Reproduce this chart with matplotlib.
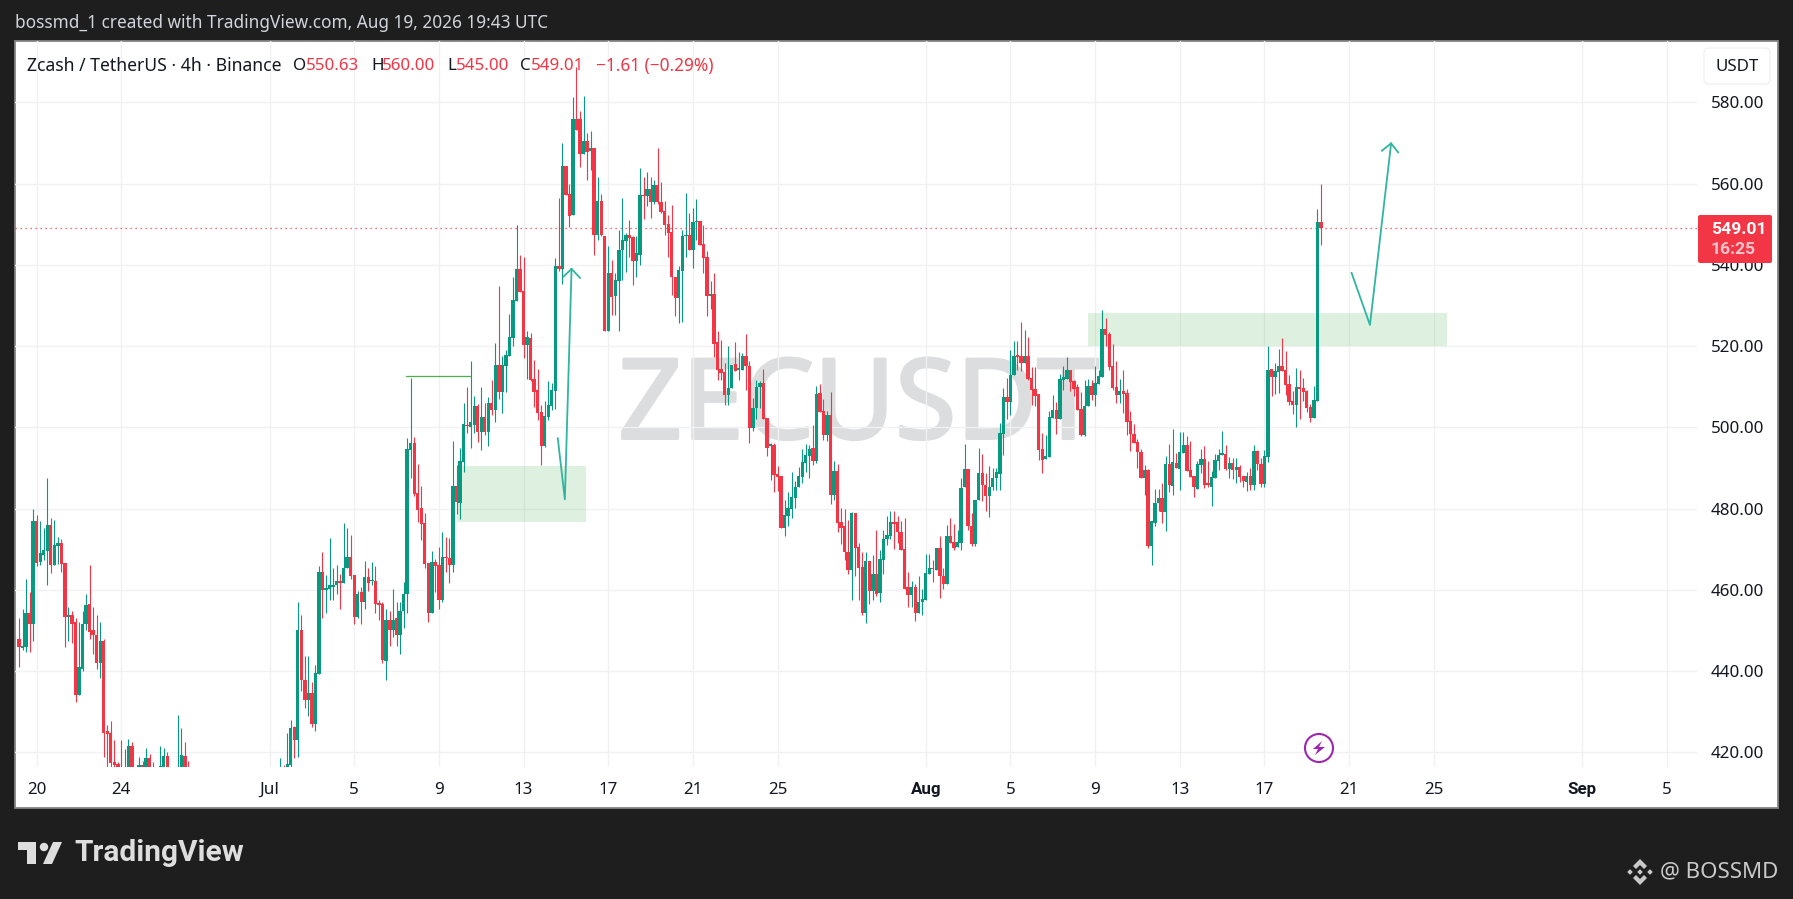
import matplotlib
matplotlib.use('Agg')
import matplotlib.pyplot as plt
import matplotlib.patheffects as pe
from matplotlib.patches import Rectangle, FancyBboxPatch, Circle, Polygon

plt.rcParams['font.family'] = ['Noto Sans', 'DejaVu Sans']
BOLD_FONT = ['Roboto', 'DejaVu Sans']

# 4h bars, counted from the Jun 20 00:00 candle. 44..68 sit below the visible range.
bar_numbers = list(range(-5, 44)) + list(range(69, 365))

opens = [
    448.0, 445.6, 446.0, 454.2, 451.5, 476.9, 466.8, 468.5, 469.5, 475.9,
    466.0, 470.7, 471.5, 466.5, 453.4, 453.9, 452.0, 434.2, 440.6, 451.5,
    456.4, 450.0, 449.0, 442.1, 447.5, 425.3, 424.8, 417.7, 417.2, 415.0,
    408.0, 412.0, 421.6, 412.0, 412.0, 416.9, 414.0, 418.7, 414.0, 411.0,
    410.0, 412.0, 419.2, 413.0, 411.0, 414.0, 413.0, 419.2, 414.0,
    411.0, 416.0, 411.0, 417.0, 426.3, 423.1, 450.0, 437.9, 433.0, 434.5,
    427.1, 439.4, 464.3, 459.9, 460.1, 460.8, 461.1, 462.3, 461.6, 465.3,
    468.2, 463.6, 453.2, 459.4, 456.9, 463.1, 462.1, 462.3, 456.7, 456.4,
    442.6, 452.5, 450.2, 453.0, 448.8, 454.7, 458.9, 494.4, 496.1, 483.8,
    480.1, 476.4, 466.5, 454.2, 466.8, 466.0, 457.6, 468.0, 467.8, 466.0,
    485.5, 481.3, 491.4, 500.5, 500.2, 500.6, 505.3, 498.9, 502.6, 498.9,
    506.0, 504.3, 515.4, 508.6, 515.0, 517.6, 522.1, 531.1, 539.0, 533.6,
    520.3, 522.0, 511.8, 509.2, 503.8, 495.4, 502.6, 505.3, 509.0, 539.7,
    539.0, 564.3, 557.4, 552.3, 575.9, 575.9, 567.3, 570.6, 568.0, 568.8,
    547.4, 555.7, 547.1, 523.6, 537.9, 532.3, 536.1, 543.7, 545.9, 547.4,
    546.8, 541.0, 542.4, 557.2, 557.0, 558.7, 555.5, 559.7, 555.5, 553.2,
    550.1, 548.0, 537.1, 531.9, 538.6, 547.0, 547.4, 543.7, 550.5, 550.8,
    545.1, 541.9, 532.3, 532.8, 520.9, 514.4, 513.7, 507.9, 509.6, 515.6,
    514.0, 514.1, 517.6, 515.2, 499.9, 504.8, 510.0, 511.0, 502.4, 495.5,
    495.7, 488.6, 488.1, 475.3, 478.3, 480.0, 482.7, 485.2, 487.9, 491.3,
    493.0, 495.0, 491.8, 508.5, 504.1, 498.2, 503.1, 483.4, 489.3,
    476.8, 475.6, 469.4, 465.0, 478.8, 470.6, 465.7, 454.2, 467.2, 459.8,
    464.0, 459.3, 467.4, 472.4, 473.3, 476.8, 476.8, 474.3, 470.1, 460.6,
    458.8, 460.6, 454.4, 456.9, 457.6, 464.0, 465.5, 465.0, 470.4, 463.5,
    461.5, 473.3, 471.8, 470.6, 471.6, 485.2, 489.7, 475.8, 471.4, 482.0,
    488.8, 485.9, 483.2, 485.2, 487.6, 488.6, 498.4, 507.5, 506.3, 512.9,
    517.6, 517.6, 515.9, 517.6, 512.2, 509.5, 508.3, 494.7, 492.3, 492.8,
    502.4, 504.3, 502.1, 511.7, 512.0, 514.2, 511.5, 510.0, 504.6, 498.2,
    505.3, 510.2, 508.0, 510.7, 512.5, 524.3, 523.0, 515.2, 510.0, 508.0,
    509.0, 508.5, 501.6, 498.4, 496.5, 494.0, 487.6, 489.6, 470.9, 476.5,
    481.5, 482.7, 479.2, 491.1, 485.6, 491.3, 489.8, 493.8, 495.7, 489.6,
    488.1, 484.9, 490.8, 492.3, 486.1, 485.4, 487.6, 491.8, 493.3, 493.5,
    489.8, 491.3, 489.6, 490.3, 488.1, 486.6, 488.1, 485.9, 494.3, 491.1,
    486.1, 492.8, 514.4, 512.5, 513.7, 515.2, 514.2, 510.7, 506.6, 505.6,
    510.0, 509.8, 509.0, 505.1, 502.4, 506.6, 550.63,
]
highs = [
    453.0, 455.2, 462.6, 459.4, 479.8, 478.4, 476.9, 475.2, 487.5, 477.6,
    477.1, 472.9, 472.4, 466.7, 455.9, 454.7, 453.0, 452.2, 454.9, 459.1,
    466.0, 455.9, 453.7, 452.2, 448.0, 426.8, 427.8, 423.1, 417.6, 423.1,
    420.9, 423.4, 422.6, 415.0, 418.9, 417.9, 421.1, 419.7, 417.7, 414.0,
    421.6, 421.1, 420.2, 415.0, 416.0, 429.1, 425.9, 422.6, 417.9,
    418.7, 416.9, 424.8, 428.0, 426.6, 457.1, 453.7, 443.8, 443.6, 437.4,
    441.4, 465.8, 469.2, 463.6, 472.7, 465.3, 466.0, 463.8, 476.4, 475.2,
    473.4, 463.6, 459.6, 460.8, 467.0, 465.5, 466.8, 465.8, 457.6, 457.1,
    455.4, 454.7, 460.1, 456.9, 457.1, 462.0, 497.5, 512.1, 497.6, 491.0,
    485.5, 478.8, 466.5, 469.5, 467.5, 470.5, 474.2, 472.9, 472.7, 496.6,
    490.7, 494.9, 506.0, 510.0, 516.3, 507.6, 505.8, 510.0, 505.9, 507.5,
    511.7, 520.7, 534.8, 517.6, 519.0, 527.8, 536.9, 549.8, 542.4, 541.9,
    523.7, 523.2, 516.6, 514.3, 505.5, 506.6, 511.3, 510.8, 541.6, 556.4,
    570.1, 564.3, 559.9, 581.4, 588.8, 577.9, 581.6, 572.4, 572.9, 568.8,
    561.7, 557.4, 547.1, 544.6, 541.2, 538.0, 548.7, 556.4, 547.8, 551.0,
    547.1, 547.0, 563.8, 561.7, 562.9, 561.7, 560.9, 568.7, 560.5, 555.6,
    552.3, 554.7, 537.1, 539.7, 548.7, 557.6, 552.7, 553.9, 556.2, 550.8,
    549.8, 543.4, 536.0, 538.1, 523.7, 521.5, 515.8, 520.0, 515.4, 521.1,
    518.6, 518.2, 523.0, 516.4, 507.2, 511.7, 511.3, 514.4, 502.4, 496.1,
    496.1, 490.6, 488.1, 482.2, 484.2, 489.1, 486.7, 490.3, 494.7, 495.9,
    495.7, 500.6, 510.2, 510.7, 507.0, 504.1, 508.8, 491.8, 491.1, 480.2,
    480.0, 477.3, 479.2, 479.0, 471.6, 469.4, 469.2, 467.2, 468.7, 474.8,
    469.8, 474.8, 478.3, 479.5, 479.5, 478.3, 477.0, 477.8, 464.5, 462.3,
    461.5, 463.5, 460.1, 468.9, 468.9, 467.4, 470.4, 473.2, 465.5, 476.0,
    477.8, 476.3, 474.8, 487.6, 496.0, 489.7, 478.8, 482.2, 495.0, 493.5,
    488.7, 490.4, 490.1, 490.1, 501.0, 509.7, 512.2, 519.1, 521.3, 521.3,
    526.0, 524.0, 522.3, 514.8, 514.8, 508.3, 498.7, 498.2, 504.1, 508.0,
    506.3, 513.2, 515.2, 517.4, 514.2, 511.7, 510.7, 508.8, 511.7, 512.0,
    511.7, 515.2, 514.0, 528.9, 527.0, 523.5, 520.6, 516.4, 511.9, 514.1,
    509.5, 504.1, 500.9, 497.2, 494.6, 490.8, 489.7, 476.9, 484.9, 484.9,
    486.4, 493.0, 496.0, 499.7, 493.8, 498.9, 498.9, 497.9, 496.7, 488.1,
    491.8, 494.7, 495.4, 491.8, 489.3, 493.5, 494.7, 499.2, 495.7, 492.8,
    492.5, 492.5, 490.8, 488.1, 489.1, 490.1, 495.7, 494.5, 492.5, 494.5,
    520.1, 514.4, 515.9, 519.3, 522.0, 518.9, 512.9, 509.0, 514.7, 514.2,
    512.2, 509.3, 505.8, 510.2, 553.7, 560.0,
]
lows = [
    441.1, 445.3, 444.7, 444.8, 447.3, 465.9, 466.0, 467.3, 461.3, 464.1,
    466.0, 466.3, 464.3, 446.0, 447.5, 447.0, 432.5, 434.0, 440.1, 450.2,
    448.0, 444.1, 440.4, 438.2, 418.9, 415.0, 412.0, 412.0, 411.0, 410.0,
    406.0, 410.0, 410.0, 409.0, 410.0, 412.0, 412.0, 411.0, 409.0, 408.0,
    408.0, 410.0, 411.0, 410.0, 409.0, 412.0, 411.0, 410.0, 408.0,
    409.0, 410.0, 409.0, 415.0, 418.7, 418.9, 435.2, 431.0, 429.0, 426.3,
    425.3, 439.4, 453.0, 454.2, 457.6, 457.4, 458.9, 455.4, 461.6, 465.3,
    462.6, 451.5, 453.0, 451.7, 455.4, 459.6, 461.3, 454.2, 452.7, 442.1,
    437.9, 446.3, 448.3, 446.3, 444.1, 450.7, 454.4, 487.5, 483.0, 476.6,
    472.2, 465.5, 452.0, 454.2, 459.4, 455.4, 456.9, 464.5, 461.6, 464.3,
    478.6, 477.4, 489.0, 498.7, 494.9, 498.7, 496.4, 494.5, 498.0, 495.4,
    503.0, 501.2, 507.0, 503.5, 508.6, 517.6, 520.0, 531.1, 533.2, 517.0,
    511.9, 511.4, 505.1, 501.8, 490.7, 495.2, 501.8, 504.3, 504.4, 538.6,
    535.3, 557.2, 549.4, 552.3, 573.2, 564.0, 567.3, 560.9, 563.3, 542.4,
    546.0, 547.2, 523.6, 523.6, 527.7, 527.7, 523.7, 536.3, 538.3, 542.0,
    535.0, 537.1, 540.0, 551.3, 554.5, 551.5, 555.0, 555.0, 552.7, 547.4,
    542.0, 532.6, 527.4, 525.8, 526.0, 542.0, 543.7, 539.2, 546.1, 544.9,
    537.9, 527.3, 529.1, 517.4, 511.7, 511.7, 505.6, 505.6, 509.6, 513.9,
    511.7, 514.1, 509.3, 496.1, 499.0, 502.0, 504.7, 502.0, 492.9, 487.1,
    484.0, 484.4, 475.3, 473.3, 475.6, 477.8, 480.2, 485.2, 486.3, 489.1,
    487.6, 490.8, 491.3, 503.8, 497.0, 496.7, 481.2, 482.0, 474.3, 471.4,
    467.4, 464.0, 457.4, 463.5, 457.6, 453.7, 451.9, 456.4, 457.6, 458.6,
    456.9, 464.0, 471.1, 472.4, 470.1, 471.6, 469.9, 460.3, 455.9, 455.9,
    452.4, 454.2, 453.7, 457.6, 464.0, 462.0, 465.0, 458.1, 460.3, 461.5,
    471.6, 469.7, 470.6, 469.9, 485.2, 474.8, 470.9, 470.9, 482.0, 481.9,
    479.5, 478.0, 484.7, 484.7, 484.5, 493.3, 502.1, 503.1, 512.9, 514.2,
    513.9, 515.9, 511.7, 505.6, 505.3, 492.0, 488.8, 492.3, 492.8, 502.4,
    498.4, 502.1, 509.3, 512.0, 509.0, 507.8, 504.3, 497.8, 497.8, 505.3,
    506.8, 505.3, 510.7, 512.5, 520.1, 514.2, 509.3, 506.0, 506.0, 503.5,
    498.2, 494.1, 496.2, 490.0, 487.6, 483.3, 470.3, 466.0, 475.8, 479.5,
    476.5, 474.6, 484.2, 483.4, 490.1, 484.7, 493.8, 489.3, 487.9, 482.9,
    484.9, 488.8, 485.1, 485.2, 480.7, 487.6, 489.6, 493.3, 489.6, 487.6,
    487.4, 486.2, 486.6, 485.2, 484.4, 484.7, 484.7, 489.6, 485.4, 485.2,
    491.5, 507.8, 508.3, 508.5, 513.9, 508.0, 505.6, 503.4, 500.2, 502.1,
    506.6, 503.8, 501.4, 502.4, 506.4, 545.0,
]
closes = [
    445.9, 446.3, 454.2, 451.5, 476.9, 466.5, 469.0, 469.7, 475.9, 466.0,
    471.0, 471.5, 466.3, 453.4, 453.7, 451.7, 434.2, 440.9, 451.7, 456.2,
    449.7, 448.8, 442.1, 447.5, 424.8, 424.6, 417.4, 417.0, 413.0, 412.0,
    416.0, 421.6, 412.0, 413.0, 416.9, 414.0, 418.7, 414.0, 411.0, 409.0,
    416.7, 419.2, 413.0, 411.0, 414.0, 416.0, 419.4, 412.0, 410.0,
    414.0, 412.0, 417.2, 426.1, 423.1, 450.0, 437.7, 433.0, 434.5, 427.1,
    439.6, 464.3, 459.9, 460.4, 461.1, 461.3, 462.3, 461.6, 465.5, 468.2,
    463.3, 453.2, 459.1, 456.9, 463.1, 461.8, 462.2, 456.4, 456.2, 442.8,
    452.5, 450.2, 452.7, 448.8, 454.9, 459.1, 494.6, 496.1, 483.5, 479.6,
    476.1, 466.3, 454.2, 466.8, 465.8, 457.6, 468.0, 467.8, 466.0, 485.5,
    481.6, 491.7, 500.8, 500.3, 501.2, 505.3, 498.9, 502.6, 498.9, 506.0,
    504.3, 515.4, 508.6, 515.4, 517.8, 522.2, 531.4, 539.0, 533.2, 520.3,
    522.2, 511.6, 508.7, 503.5, 495.4, 502.8, 505.5, 509.2, 539.7, 539.0,
    564.3, 557.2, 552.0, 575.9, 573.2, 567.3, 570.6, 567.9, 568.8, 547.4,
    555.7, 547.4, 523.6, 537.9, 532.2, 536.3, 543.7, 546.1, 547.4, 546.7,
    541.0, 542.8, 557.2, 557.0, 558.7, 555.5, 559.7, 555.5, 553.0, 549.8,
    547.8, 536.9, 531.9, 538.7, 547.1, 547.4, 543.7, 550.5, 550.8, 544.9,
    541.8, 532.3, 532.8, 520.5, 514.1, 513.5, 507.9, 509.6, 515.4, 513.9,
    514.5, 517.6, 515.0, 499.9, 504.8, 510.0, 511.0, 502.1, 495.0, 495.7,
    488.3, 487.9, 475.3, 478.5, 480.2, 482.9, 485.4, 488.1, 491.5, 493.3,
    494.7, 491.8, 508.3, 503.8, 498.2, 503.1, 483.4, 489.3, 476.5, 475.3,
    469.2, 465.0, 478.8, 470.4, 465.5, 454.2, 467.2, 459.8, 464.0, 459.1,
    467.7, 472.6, 473.6, 476.8, 476.3, 474.3, 469.9, 460.3, 458.8, 460.6,
    454.4, 457.1, 457.8, 464.2, 465.5, 465.2, 470.4, 463.3, 461.5, 473.3,
    471.6, 470.4, 471.8, 485.0, 489.7, 475.6, 471.4, 482.2, 488.8, 485.9,
    483.2, 485.2, 487.6, 489.1, 498.7, 507.5, 506.3, 512.9, 517.6, 517.4,
    515.9, 517.6, 512.0, 509.3, 507.8, 494.5, 492.0, 493.0, 502.6, 504.3,
    502.1, 512.0, 512.5, 514.2, 511.2, 509.5, 504.3, 498.2, 505.3, 510.2,
    508.0, 511.0, 512.7, 524.3, 522.8, 514.9, 509.8, 508.0, 509.0, 508.3,
    501.4, 498.4, 496.2, 493.9, 487.6, 489.6, 470.9, 476.9, 481.5, 482.7,
    479.2, 491.1, 485.9, 491.5, 490.1, 494.0, 495.7, 489.3, 487.9, 485.2,
    491.1, 492.3, 485.9, 485.9, 487.9, 492.0, 493.3, 493.5, 489.8, 491.3,
    489.6, 490.3, 487.9, 486.9, 488.1, 485.9, 494.3, 491.1, 486.1, 493.0,
    514.2, 512.5, 513.9, 515.2, 513.9, 510.5, 506.3, 505.6, 510.0, 509.5,
    508.8, 504.8, 502.4, 506.8, 550.6, 549.01,
]

price_ticks = [420, 440, 460, 480, 500, 520, 540, 560, 580]
date_ticks = [0, 24, 66, 90, 114, 138, 162, 186, 210, 252, 276, 300, 324, 348, 372, 396, 438, 462]
date_labels = ['20', '24', 'Jul', '5', '9', '13', '17', '21', '25', 'Aug', '5', '9', '13', '17', '21', '25', 'Sep', '5']
month_labels = ['Aug', 'Sep']
last_price = 549.01

# drawings, as (bar, price)
zone_1 = (119.1, 155.7, 476.8, 490.5)
zone_2 = (298.0, 399.8, 520.0, 528.1)
arrow_1_bars = [147.7, 149.7, 151.6]
arrow_1_prices = [497.3, 482.3, 539.0]
arrow_1_head_bars = [149.3, 151.6, 154.0]
arrow_1_head_prices = [537.1, 539.0, 536.8]
arrow_2_bars = [372.7, 377.9, 383.9]
arrow_2_prices = [538.0, 525.2, 569.9]
arrow_2_head_bars = [381.3, 383.9, 385.9]
arrow_2_head_prices = [568.1, 569.9, 567.7]
level_bars = [104.6, 122.9]
level_price = 512.6

UP = '#089981'
DOWN = '#f23645'
INK = '#131722'
DARK = '#1e1e1e'
GRID = '#f0f1f3'
TEAL = '#2fb5a0'

W, H = 1793, 899
fig = plt.figure(figsize=(W / 100, H / 100), dpi=100, facecolor=DARK)

# back layer in pixels for the panel
back = fig.add_axes([0, 0, 1, 1], zorder=0)
back.set_xlim(0, W)
back.set_ylim(H, 0)
back.axis('off')
back.add_patch(Rectangle((15, 41), 1763, 767, facecolor='white', edgecolor='#858585', linewidth=1.3))

# price pane
ax = fig.add_axes([15 / W, 1 - 767 / H, 1682 / W, 726 / H], zorder=1)
ax.patch.set_alpha(0)
ax.set_xlim(-6.15, 470.6)
ax.set_ylim(416.4, 595.1)
for s in ax.spines.values():
    s.set_visible(False)
ax.grid(True, color=GRID, linewidth=1)
ax.set_axisbelow(True)
ax.yaxis.tick_right()
ax.set_yticks(price_ticks)
ax.set_yticklabels(['%.2f' % p for p in price_ticks], fontsize=12.2, color=INK)
ax.tick_params(axis='y', length=0, pad=10)
ax.set_xticks(date_ticks)
ax.set_xticklabels(date_labels, fontsize=12.2, color=INK)
ax.tick_params(axis='x', length=0, pad=10.8)
for lab in ax.get_xticklabels():
    if lab.get_text() in month_labels:
        lab.set_fontweight('bold')
        lab.set_fontfamily(BOLD_FONT)

wm = ax.text(858.7 / 3.528 - 36.7 / 3.528, 504.4, 'ZECUSDT', fontsize=80, color='#dcddde',
             ha='center', va='center', zorder=0.5)
wm.set_path_effects([pe.withStroke(linewidth=2.2, foreground='#dcddde')])

for bar_from, bar_to, low, high in (zone_1, zone_2):
    ax.add_patch(Rectangle((bar_from, low), bar_to - bar_from, high - low,
                           facecolor='#4caf50', alpha=0.18, linewidth=0, zorder=1))

# candles
colors = [UP if c >= o else DOWN for o, c in zip(opens, closes)]
ax.vlines(bar_numbers, lows, highs, colors=colors, linewidth=0.8, zorder=2)
bottoms = [min(o, c) for o, c in zip(opens, closes)]
heights = [max(abs(c - o), 0.3) for o, c in zip(opens, closes)]
ax.bar(bar_numbers, heights, bottom=bottoms, width=0.95, color=colors, linewidth=0, zorder=3)

ax.axhline(last_price, color=DOWN, linewidth=0.9, linestyle=(0, (1, 3)), zorder=2.5)

ax.plot(level_bars, [level_price, level_price], color='#4caf50', linewidth=0.9, zorder=4)
ax.plot(arrow_1_bars, arrow_1_prices, color=TEAL, linewidth=1.3, zorder=4)
ax.plot(arrow_1_head_bars, arrow_1_head_prices, color=TEAL, linewidth=1.3, zorder=4)
ax.plot(arrow_2_bars, arrow_2_prices, color=TEAL, linewidth=1.3, zorder=4)
ax.plot(arrow_2_head_bars, arrow_2_head_prices, color=TEAL, linewidth=1.3, zorder=4)

# front layer in pixels: header, legend, badges, logos
top = fig.add_axes([0, 0, 1, 1], zorder=2)
top.set_xlim(0, W)
top.set_ylim(H, 0)
top.axis('off')
top.patch.set_alpha(0)

top.text(15, 23, 'bossmd_1 created with TradingView.com, Aug 19, 2026 19:43 UTC',
         fontsize=12.4, color='#d1d4dc', va='center')

legend_parts = [
    (27, 'Zcash / TetherUS · 4h · Binance', INK, 12.65),
    (293, 'O', INK, 12.2), (306, '550.63', DOWN, 12.2),
    (371, 'H', INK, 12.2), (382, '560.00', DOWN, 12.2),
    (447, 'L', INK, 12.2), (456, '545.00', DOWN, 12.2),
    (520, 'C', INK, 12.2), (531, '549.01', DOWN, 12.2),
    (596, '−1.61 (−0.29%)', DOWN, 12.4),
]
for x, txt, col, size in legend_parts:
    top.text(x, 66, txt, fontsize=size, color=col, va='center')

top.add_patch(FancyBboxPatch((1704, 48), 66, 36, boxstyle='round,pad=0,rounding_size=5',
                             facecolor='white', edgecolor=GRID, linewidth=1))
top.text(1737, 67, 'USDT', fontsize=12.2, color=INK, ha='center', va='center')

top.add_patch(FancyBboxPatch((1698, 215), 74, 48, boxstyle='round,pad=0,rounding_size=2',
                             facecolor=DOWN, edgecolor='none'))
top.text(1711, 230, '549.01', fontsize=12.6, color='white', fontweight='bold', family=BOLD_FONT, va='center')
top.text(1711, 250, '16:25', fontsize=12.6, color='#fbc6cb', fontweight='bold', family=BOLD_FONT, va='center')

# lightning marker
top.add_patch(Circle((1319, 748), 14, facecolor='white', edgecolor='#9c27b0', linewidth=1.5))
top.add_patch(Polygon([(1322, 741), (1313, 749), (1318, 749), (1315, 755), (1325, 747), (1319, 747)],
                      facecolor='#9c27b0', edgecolor='none'))

# TradingView logo
LOGO = '#dedede'
top.add_patch(Polygon([(18, 842), (36, 842), (36, 864), (27, 864), (27, 850), (18, 850)],
                      facecolor=LOGO, edgecolor='none'))
top.add_patch(Circle((44, 847), 4.2, facecolor=LOGO, edgecolor='none'))
top.add_patch(Polygon([(53, 842), (62, 842), (52, 864), (43, 864)], facecolor=LOGO, edgecolor='none'))
top.text(74, 853, 'TradingView', fontsize=21.5, color=LOGO, fontweight='bold', family=BOLD_FONT, va='center')

# Binance diamond + handle
DIAMOND = '#c9c9c9'
cx, cy = 1640, 872
top.add_patch(Polygon([(cx, cy - 13), (cx + 7, cy - 6), (cx + 4, cy - 3), (cx, cy - 7), (cx - 4, cy - 3), (cx - 7, cy - 6)],
                      facecolor=DIAMOND, edgecolor='none'))
top.add_patch(Polygon([(cx, cy + 13), (cx + 7, cy + 6), (cx + 4, cy + 3), (cx, cy + 7), (cx - 4, cy + 3), (cx - 7, cy + 6)],
                      facecolor=DIAMOND, edgecolor='none'))
for dx, dy, r in ((-10, 0, 2.8), (10, 0, 2.8), (0, 0, 2.8)):
    top.add_patch(Polygon([(cx + dx - r, cy + dy), (cx + dx, cy + dy - r), (cx + dx + r, cy + dy), (cx + dx, cy + dy + r)],
                          facecolor=DIAMOND, edgecolor='none'))
top.text(1660, 872, '@ BOSSMD', fontsize=16, color=DIAMOND, va='center')

fig.savefig('out.png', dpi=100, facecolor=DARK)
